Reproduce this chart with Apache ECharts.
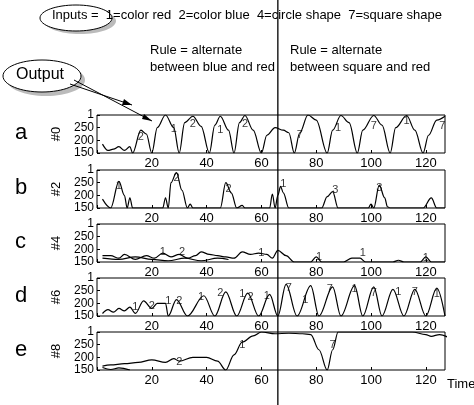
<!DOCTYPE html>
<html>
<head>
<meta charset="utf-8">
<script src="https://cdn.jsdelivr.net/npm/echarts@6/dist/echarts.min.js"></script>
<style>body{margin:0}#main{width:474px;height:405px}</style>
</head>
<body>
<div id="main"></div>
<script>
// values
var aX = [2,4,6,8,10,12,13,16,18,20,22,25,28,30,32,35,38,41,43,45,48,50,52,54,57,60,62,65,68,70,72,74,77,80,84,86,89,92,95,97,101,104,107,109,113,116,119,121,124,127];
var aY = [185,160,165,175,160,175,150,240,225,150,250,300,250,150,270,295,255,150,260,295,240,150,270,298,240,150,220,250,240,230,150,230,300,280,150,240,298,270,150,240,298,260,150,250,298,240,150,220,280,295];
var bX = [2,5,8,10,11,12,13,14,24,25,26,27,29,31,33,34,35,45,47,49,51,53,54,63,64,65,66,67,68,70,82,84,86,88,99,100,101,103,105,106,107,119,122,124,127];
var bY = [185,150,255,200,150,190,150,150,150,190,150,250,290,220,150,165,150,150,250,210,150,160,150,150,205,150,200,235,210,150,150,195,215,150,150,165,150,240,190,155,150,150,190,150,150];
var cX = [2,5,8,10,14,18,21,24,27,30,33,36,38,41,44,47,50,53,56,59,62,64,66,69,72,78,80,82,90,93,96,98,108,110,112,118,120,122,127];
var cY = [175,175,165,180,160,175,165,185,170,180,165,175,190,180,175,170,165,190,180,185,180,165,196,175,150,150,170,150,150,165,165,150,150,157,150,150,170,150,150];
var c2X = [2,8,14,20,26,32,38,44,48];
var c2Y = [165,160,170,160,155,165,155,165,160];
var dX = [2,4,6,8,10,12,14,17,20,22,25,26,29,33,39,43,47,51,55,59,63,66,69,73,78,81,86,89,94,97,101,104,108,112,116,120,124,127];
var dY = [160,175,165,180,170,185,160,210,180,200,200,150,215,150,230,150,245,150,240,150,235,150,275,150,270,150,265,150,270,150,265,150,255,150,255,150,260,150];
var eX = [2,5,10,15,20,25,28,30,35,40,44,47,50,53,57,60,65,70,75,78,81,84,86,88,95,105,115,120,122,125,128];
var eY = [165,170,175,180,190,180,195,185,200,200,185,150,210,260,285,300,293,295,293,290,230,150,230,300,300,300,300,290,283,290,280];
var e2X = [2,5,8,12];
var e2Y = [160,152,158,150];
var yTicks = [150, 200, 250, 300];
var panelNames = ['#0', '#2', '#4', '#6', '#8'];
var panelLetters = ['a', 'b', 'c', 'd', 'e'];
var notes = [
  [[16,215,'2'],[28,245,'1'],[35,265,'2'],[45,240,'1'],[54,265,'2'],[74,220,'7'],[88,250,'1'],[101,255,'7'],[113,275,'1'],[126,255,'7']],
  [[8,235,'1'],[29,270,'2'],[48,225,'2'],[68,245,'1'],[87,222,'3'],[103,230,'3']],
  [[24,190,'1'],[31,190,'2'],[60,185,'1'],[81,170,'1'],[97,185,'1'],[120,165,'1']],
  [[14,185,'1'],[20,190,'2'],[26,210,'1'],[30,210,'2'],[38,225,'1'],[45,240,'2'],[53,235,'1'],[56,225,'2'],[62,230,'1'],[70,260,'7'],[76,215,'1'],[85,255,'7'],[94,255,'1'],[101,240,'7'],[110,245,'1'],[116,245,'7'],[124,235,'1']],
  [[53,250,'1'],[86,250,'7'],[30,180,'2']]
];
var ruleTime = 66;

function pairs(xs, ys) {
  var out = [];
  for (var i = 0; i < xs.length; i++) out.push([xs[i], ys[i]]);
  return out;
}

var lines = [[pairs(aX,aY)], [pairs(bX,bY)], [pairs(cX,cY), pairs(c2X,c2Y)], [pairs(dX,dY)], [pairs(eX,eY), pairs(e2X,e2Y)]];
var tops = [115, 170, 224, 278, 332];

var grids = [], xAxes = [], yAxes = [], series = [], graphic = [];
for (var g = 0; g < 5; g++) {
  grids.push({left: 97, width: 348, top: tops[g], height: 38, show: true, borderColor: '#000', borderWidth: 1});
  xAxes.push({
    type: 'value', gridIndex: g, min: 0, max: 127, interval: 20,
    axisLine: {show: false}, splitLine: {show: false},
    axisTick: {inside: true, length: 3, lineStyle: {color: '#000'}},
    axisLabel: {color: '#000', fontSize: 13, margin: 4, fontFamily: 'Liberation Sans',
      formatter: function (v) { return v === 0 ? '' : v; }}
  });
  yAxes.push({
    type: 'value', gridIndex: g, min: 150, max: 300, interval: 50,
    name: panelNames[g], nameLocation: 'middle', nameGap: 28, nameRotate: 90,
    nameTextStyle: {color: '#000', fontSize: 13, fontFamily: 'Liberation Sans'},
    axisLine: {show: false}, splitLine: {show: false},
    axisTick: {inside: true, length: 3, lineStyle: {color: '#000'}},
    axisLabel: {color: '#000', fontSize: 12, margin: 3, fontFamily: 'Liberation Sans',
      formatter: function (v) { return v === 300 ? '1' : v; }}
  });
  lines[g].forEach(function (d) {
    series.push({type: 'line', xAxisIndex: g, yAxisIndex: g, data: d, smooth: 0.35, smoothMonotone: 'x',
      symbol: 'none', lineStyle: {color: '#000', width: 1.2}, silent: true});
  });
  series.push({type: 'scatter', xAxisIndex: g, yAxisIndex: g, data: notes[g], symbolSize: 0,
    label: {show: true, position: 'inside', formatter: function (p) { return p.data[2]; },
      color: '#000', fontSize: 11, fontFamily: 'Liberation Sans'}});
  graphic.push({type: 'text', left: 15, top: tops[g] + 7,
    style: {text: panelLetters[g], fontSize: 22, fill: '#000', fontFamily: 'Liberation Sans'}});
}

graphic.push(
  {type: 'ellipse', shape: {cx: 80, cy: 21, rx: 36, ry: 13}, style: {fill: '#bbb'}},
  {type: 'ellipse', shape: {cx: 76, cy: 18, rx: 36, ry: 13}, style: {fill: '#fff', stroke: '#000', lineWidth: 1}},
  {type: 'text', left: 52, top: 9, style: {text: 'Inputs =  1=color red  2=color blue  4=circle shape  7=square shape', fontSize: 13, fill: '#000', fontFamily: 'Liberation Sans'}},
  {type: 'text', left: 150, top: 42, style: {text: 'Rule = alternate\nbetween blue and red', fontSize: 13, lineHeight: 17, fill: '#000', fontFamily: 'Liberation Sans'}},
  {type: 'text', left: 290, top: 42, style: {text: 'Rule = alternate\nbetween square and red', fontSize: 13, lineHeight: 17, fill: '#000', fontFamily: 'Liberation Sans'}},
  {type: 'ellipse', shape: {cx: 46, cy: 80, rx: 39, ry: 16}, style: {fill: '#bbb'}},
  {type: 'ellipse', shape: {cx: 42, cy: 76, rx: 39, ry: 16}, style: {fill: '#fff', stroke: '#000', lineWidth: 1}},
  {type: 'text', left: 16, top: 67, style: {text: 'Output', fontSize: 16, fill: '#000', fontFamily: 'Liberation Sans'}},
  {type: 'line', shape: {x1: 70, y1: 84, x2: 132, y2: 105}, style: {stroke: '#000', lineWidth: 1}},
  {type: 'line', shape: {x1: 74, y1: 80, x2: 152, y2: 121}, style: {stroke: '#000', lineWidth: 1}},
  {type: 'polygon', shape: {points: [[132,105],[124,99],[122,105]]}, style: {fill: '#000'}},
  {type: 'polygon', shape: {points: [[152,121],[144,114],[142,119]]}, style: {fill: '#000'}},
  {type: 'text', left: 447, top: 378, style: {text: 'Time', fontSize: 13, fill: '#000', fontFamily: 'Liberation Sans'}}
);

var chart = echarts.init(document.getElementById('main'));
chart.setOption({
  animation: false,
  backgroundColor: '#fff',
  grid: grids, xAxis: xAxes, yAxis: yAxes, series: series, graphic: graphic
});
var px = chart.convertToPixel({gridIndex: 0}, [ruleTime, 150])[0];
graphic.push({type: 'line', shape: {x1: px, y1: 0, x2: px, y2: 405}, style: {stroke: '#000', lineWidth: 1.3}});
chart.setOption({graphic: graphic});
</script>
</body>
</html>
